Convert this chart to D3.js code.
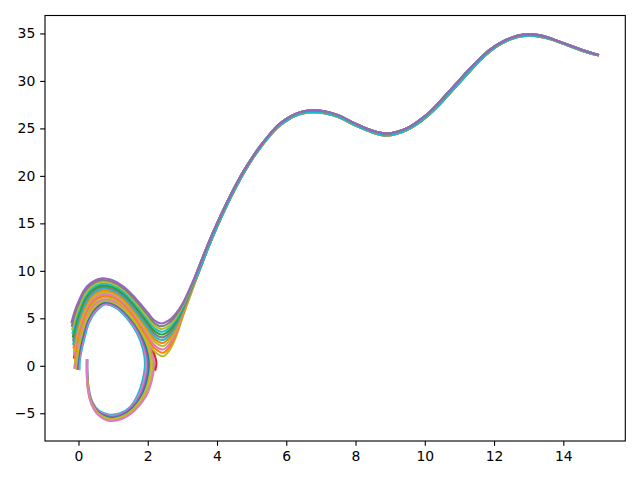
<!DOCTYPE html>
<html>
<head>
<meta charset="utf-8">
<script src="https://cdn.jsdelivr.net/npm/d3@7"></script>
<style>
  html, body { margin: 0; padding: 0; background: #fff; }
  svg { display: block; }
  text { font-family: "DejaVu Sans", sans-serif; }
</style>
</head>
<body>
<svg id="chart" width="640" height="480"></svg>
<script>
// ---------------- data ----------------
const xTicks = [0, 2, 4, 6, 8, 10, 12, 14];
const yTicks = [-5, 0, 5, 10, 15, 20, 25, 30, 35];

// shared long arm (upper edge / lower edge of the bundle)
const tailUpper = [[3.5,10.6],[3.75,12.9],[4.0,15.0],[4.25,16.95],[4.5,18.75],[4.75,20.4],[5.0,21.85],[5.25,23.15],[5.5,24.3],[5.75,25.3],[6.0,26.0],[6.25,26.5],[6.5,26.8],[6.8,26.9],[7.1,26.8],[7.5,26.4],[8.0,25.5],[8.5,24.75],[8.9,24.45],[9.2,24.65],[9.5,25.05],[9.8,25.75],[10.1,26.6],[10.4,27.7],[10.7,28.9],[11.0,30.1],[11.3,31.3],[11.6,32.4],[11.9,33.35],[12.2,34.05],[12.5,34.55],[12.8,34.85],[13.1,34.9],[13.4,34.75],[13.7,34.4],[14.0,34.0],[14.3,33.6],[14.6,33.2],[15.0,32.75]];
const tailLower = [[3.5,10.1],[3.75,12.45],[4.0,14.6],[4.25,16.6],[4.5,18.45],[4.75,20.15],[5.0,21.65],[5.25,22.95],[5.5,24.1],[5.75,25.1],[6.0,25.8],[6.25,26.3],[6.5,26.6],[6.8,26.7],[7.1,26.6],[7.5,26.2],[8.0,25.3],[8.5,24.55],[8.9,24.25],[9.2,24.45],[9.5,24.85],[9.8,25.5],[10.1,26.35],[10.4,27.4],[10.7,28.6],[11.0,29.8],[11.3,31.0],[11.6,32.15],[11.9,33.15],[12.2,33.9],[12.5,34.4],[12.8,34.7],[13.1,34.75],[13.4,34.6],[13.7,34.3],[14.0,33.9],[14.3,33.5],[14.6,33.1],[15.0,32.7]];

// hump curves, inner to outer: left start -> hump -> valley -> arm
const humpHeads = [
  [[-0.10,0.40],[-0.05,2.00],[0.05,3.60],[0.20,5.20],[0.40,6.50],[0.70,7.20],[1.00,7.05],[1.30,6.30],[1.65,4.70],[1.95,2.95],[2.20,1.50],[2.45,1.00],[2.62,1.60],[2.82,3.10],[3.02,5.25],[3.27,7.80]],
  [[-0.11,0.78],[-0.05,2.35],[0.05,3.89],[0.20,5.45],[0.40,6.70],[0.70,7.38],[1.00,7.23],[1.30,6.49],[1.65,4.92],[1.95,3.20],[2.20,1.85],[2.45,1.38],[2.62,1.95],[2.82,3.35],[3.02,5.40],[3.27,7.87]],
  [[-0.12,1.16],[-0.06,2.70],[0.04,4.17],[0.19,5.69],[0.39,6.90],[0.69,7.56],[0.99,7.41],[1.30,6.67],[1.65,5.14],[1.96,3.45],[2.20,2.15],[2.44,1.72],[2.62,2.25],[2.82,3.60],[3.02,5.55],[3.27,7.95]],
  [[-0.13,1.55],[-0.06,3.05],[0.04,4.46],[0.19,5.94],[0.39,7.10],[0.69,7.75],[0.99,7.60],[1.30,6.86],[1.65,5.36],[1.96,3.71],[2.20,2.53],[2.44,2.08],[2.62,2.60],[2.82,3.84],[3.02,5.67],[3.27,8.02]],
  [[-0.14,1.93],[-0.07,3.40],[0.03,4.75],[0.18,6.18],[0.38,7.30],[0.68,7.93],[0.98,7.78],[1.30,7.05],[1.65,5.57],[1.97,3.95],[2.20,2.81],[2.43,2.41],[2.62,2.89],[2.82,4.06],[3.02,5.79],[3.27,8.09]],
  [[-0.15,2.31],[-0.07,3.75],[0.03,5.03],[0.18,6.43],[0.38,7.50],[0.68,8.11],[0.98,7.96],[1.30,7.23],[1.65,5.79],[1.97,4.18],[2.20,3.09],[2.43,2.71],[2.62,3.17],[2.82,4.27],[3.02,5.91],[3.27,8.16]],
  [[-0.15,2.69],[-0.08,4.10],[0.02,5.32],[0.17,6.67],[0.37,7.70],[0.67,8.29],[0.97,8.14],[1.30,7.42],[1.65,6.01],[1.98,4.42],[2.20,3.36],[2.42,2.99],[2.62,3.44],[2.82,4.48],[3.02,6.04],[3.27,8.24]],
  [[-0.16,3.07],[-0.08,4.45],[0.02,5.60],[0.17,6.92],[0.37,7.90],[0.67,8.47],[0.97,8.32],[1.30,7.60],[1.65,6.23],[1.98,4.65],[2.20,3.64],[2.42,3.29],[2.62,3.71],[2.82,4.69],[3.02,6.16],[3.27,8.31]],
  [[-0.17,3.45],[-0.09,4.80],[0.01,5.89],[0.16,7.16],[0.36,8.10],[0.66,8.65],[0.96,8.50],[1.30,7.79],[1.65,6.45],[1.99,4.89],[2.20,3.92],[2.41,3.58],[2.62,3.98],[2.82,4.91],[3.02,6.28],[3.27,8.38]],
  [[-0.18,3.84],[-0.09,5.15],[0.01,6.18],[0.16,7.41],[0.36,8.30],[0.66,8.84],[0.96,8.69],[1.30,7.98],[1.65,6.66],[1.99,5.13],[2.20,4.20],[2.41,3.87],[2.62,4.25],[2.82,5.12],[3.02,6.40],[3.27,8.45]],
  [[-0.19,4.22],[-0.10,5.50],[0.00,6.46],[0.15,7.65],[0.35,8.50],[0.65,9.02],[0.95,8.87],[1.30,8.16],[1.65,6.88],[2.00,5.36],[2.20,4.47],[2.40,4.16],[2.62,4.53],[2.82,5.34],[3.02,6.53],[3.27,8.53]],
  [[-0.20,4.60],[-0.10,5.85],[0.00,6.75],[0.15,7.90],[0.35,8.70],[0.65,9.20],[0.95,9.05],[1.30,8.35],[1.65,7.10],[2.00,5.60],[2.20,4.75],[2.40,4.45],[2.62,4.80],[2.82,5.55],[3.02,6.65],[3.27,8.60]]
];

// loop curves, inner to outer: start -> bottom loop -> inner hump -> left end
const loopHeads = [
  [[0.25,0.55],[0.26,-1.0],[0.30,-2.5],[0.40,-3.8],[0.60,-4.75],[0.90,-5.15],[1.20,-5.0],[1.50,-4.3],[1.72,-3.0],[1.86,-1.4],[1.92,0.2],[1.86,1.8],[1.68,3.5],[1.40,5.0],[1.08,6.1],[0.76,6.45],[0.50,5.7],[0.30,4.5],[0.18,3.0],[0.10,1.8],[0.04,0.6],[0.03,-0.35]],
  [[0.25,0.56],[0.26,-1.0],[0.30,-2.53],[0.40,-3.85],[0.60,-4.83],[0.90,-5.26],[1.21,-5.10],[1.52,-4.37],[1.76,-3.03],[1.90,-1.42],[1.96,0.22],[1.90,1.83],[1.71,3.55],[1.42,5.07],[1.09,6.19],[0.76,6.54],[0.49,5.83],[0.29,4.62],[0.16,3.12],[0.08,1.87],[0.02,0.63],[0.01,-0.33]],
  [[0.25,0.57],[0.25,-1.0],[0.29,-2.57],[0.39,-3.9],[0.59,-4.9],[0.90,-5.37],[1.22,-5.2],[1.54,-4.43],[1.80,-3.07],[1.95,-1.43],[2.01,0.23],[1.93,1.87],[1.74,3.6],[1.44,5.13],[1.09,6.28],[0.76,6.63],[0.48,5.95],[0.27,4.73],[0.15,3.23],[0.06,1.93],[0.00,0.67],[-0.02,-0.30]],
  [[0.25,0.58],[0.25,-1.0],[0.29,-2.6],[0.39,-3.95],[0.59,-4.98],[0.90,-5.48],[1.23,-5.3],[1.56,-4.5],[1.84,-3.1],[1.99,-1.45],[2.05,0.25],[1.97,1.9],[1.77,3.65],[1.46,5.2],[1.10,6.38],[0.76,6.73],[0.48,6.08],[0.26,4.85],[0.13,3.35],[0.04,2.0],[-0.02,0.7],[-0.05,-0.28]],
  [[0.24,0.58],[0.25,-1.0],[0.29,-2.63],[0.39,-4.0],[0.59,-5.05],[0.90,-5.58],[1.23,-5.4],[1.58,-4.57],[1.87,-3.13],[2.03,-1.47],[2.09,0.27],[2.01,1.93],[1.79,3.7],[1.48,5.27],[1.11,6.47],[0.75,6.82],[0.47,6.2],[0.25,4.97],[0.11,3.47],[0.02,2.07],[-0.04,0.73],[-0.07,-0.25]],
  [[0.24,0.59],[0.24,-1.0],[0.28,-2.67],[0.38,-4.05],[0.58,-5.13],[0.90,-5.69],[1.24,-5.5],[1.60,-4.63],[1.91,-3.17],[2.08,-1.48],[2.14,0.28],[2.04,1.97],[1.82,3.75],[1.50,5.33],[1.11,6.56],[0.75,6.91],[0.46,6.33],[0.23,5.08],[0.10,3.58],[0.00,2.13],[-0.06,0.77],[-0.10,-0.23]],
  [[0.24,0.60],[0.24,-1.0],[0.28,-2.7],[0.38,-4.1],[0.58,-5.2],[0.90,-5.8],[1.25,-5.6],[1.62,-4.7],[1.95,-3.2],[2.12,-1.5],[2.18,0.3],[2.08,2.0],[1.85,3.8],[1.52,5.4],[1.12,6.65],[0.75,7.0],[0.45,6.45],[0.22,5.2],[0.08,3.7],[-0.02,2.2],[-0.08,0.8],[-0.12,-0.2]]
];

// the short curve that hooks down below the valley
const hookHead = [[-0.13,0.9],[-0.06,2.5],[0.04,4.0],[0.20,5.5],[0.40,6.65],[0.70,7.3],[1.00,7.15],[1.30,6.4],[1.65,4.85],[1.95,3.15],[2.15,1.65],[2.25,0.3],[2.22,-0.4]];

// ---------------- styling / layout ----------------
const tab10 = d3.schemeCategory10; // same as matplotlib tab10
// colour index per curve (style)
const loopColor = [9, 6, 4, 0, 8, 8, 6];
const hookColor = 3;
const humpColor = [8, 1, 6, 8, 1, 9, 7, 2, 9, 8, 7, 4];

const L = 45, R = 625.3, T = 15.5, B = 441;
const svg = d3.select("#chart");

const x = d3.scaleLinear().domain([-0.967, 15.79]).range([L, R]);
const y = d3.scaleLinear().domain([-7.92, 36.89]).range([B, T]);

const line = d3.line()
  .x(d => x(d[0])).y(d => y(d[1]))
  .curve(d3.curveCatmullRom.alpha(0.5));

const series = [];
loopHeads.forEach((pts, i) => series.push({ pts, c: tab10[loopColor[i]] }));
series.push({ pts: hookHead, c: tab10[hookColor] });
humpHeads.forEach((pts, i) => series.push({
  pts: pts.concat(i <= 5 ? tailLower : tailUpper),
  c: tab10[humpColor[i]]
}));

svg.append("clipPath").attr("id", "clip")
  .append("rect").attr("x", L).attr("y", T).attr("width", R - L).attr("height", B - T);

svg.append("g").attr("clip-path", "url(#clip)")
  .selectAll("path").data(series).join("path")
  .attr("d", d => line(d.pts))
  .attr("fill", "none")
  .attr("stroke", d => d.c)
  .attr("stroke-width", 2.08)
  .attr("stroke-linejoin", "round")
  .attr("stroke-linecap", "square");

// axes
const fmt = d3.format("d");
const gx = svg.append("g").attr("transform", `translate(0,${B})`)
  .call(d3.axisBottom(x).tickValues(xTicks).tickFormat(fmt).tickSize(4.86).tickPadding(4.86));
const gy = svg.append("g").attr("transform", `translate(${L},0)`)
  .call(d3.axisLeft(y).tickValues(yTicks).tickFormat(fmt).tickSize(4.86).tickPadding(4.86));
[gx, gy].forEach(g => {
  g.select(".domain").remove();
  g.selectAll(".tick line").attr("stroke", "#000").attr("stroke-width", 1.11);
  g.selectAll(".tick text").attr("fill", "#000")
    .style("font-family", "'DejaVu Sans', sans-serif").style("font-size", "13.9px");
});

// frame
svg.append("rect").attr("x", L).attr("y", T).attr("width", R - L).attr("height", B - T)
  .attr("fill", "none").attr("stroke", "#000").attr("stroke-width", 1.11);
</script>
</body>
</html>
